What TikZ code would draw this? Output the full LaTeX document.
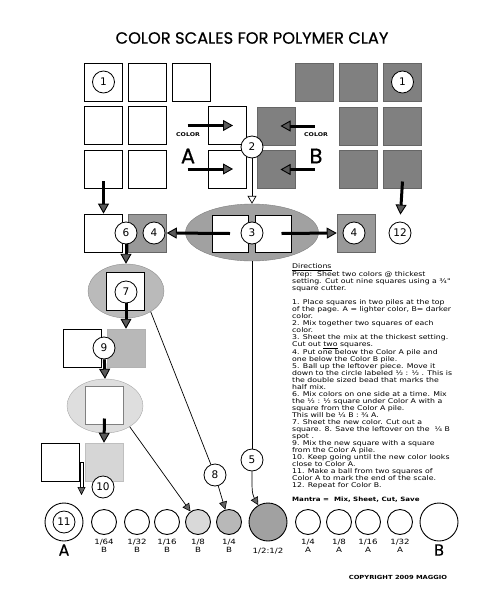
\documentclass[tikz,border=0pt]{standalone}
\usepackage{fontspec}
\setmainfont{DejaVu Sans}
\newfontfamily\titlefont{Poppins}[FakeBold=0.5]
\newfontfamily\dirfont{DejaVu Sans}[FakeStretch=1.2]
\usetikzlibrary{arrows.meta,shapes.geometric,positioning}

\definecolor{clayB}{gray}{0.50}
\definecolor{clayMix}{gray}{0.63}
\definecolor{clayQ}{gray}{0.72}
\definecolor{clayE}{gray}{0.85}

\begin{document}
\begin{tikzpicture}[x=1pt,y=-1pt,
  sqA/.style={draw,fill=white,minimum size=38pt,inner sep=0pt,line width=0.8pt},
  sqB/.style={draw=black!60,fill=clayB,minimum size=38pt,inner sep=0pt,line width=0.5pt},
  num/.style={draw,circle,fill=white,minimum size=22pt,inner sep=0pt,line width=0.8pt,
    font=\fontsize{10.5}{10.5}\selectfont},
  bead/.style={draw,circle,minimum size=25pt,inner sep=0pt,line width=0.9pt},
  blob/.style={ellipse,draw=black!45,minimum width=76pt,minimum height=54pt,inner sep=0pt},
  push/.style={line width=3pt,-{Triangle[length=10pt,width=11pt,fill=black!65,line width=0.9pt]}},
  lead/.style={line width=0.7pt,-{Triangle[length=8pt,width=8pt,fill=black!60,line width=0.6pt]}},
  tag/.style={font=\dirfont\fontsize{7.2}{7.8}\selectfont,align=center,inner sep=0pt},
  big/.style={font=\titlefont\fontsize{21}{21}\selectfont,inner sep=0pt},
  small/.style={font=\dirfont\bfseries\fontsize{5.2}{5.2}\selectfont,inner sep=0pt},
]
\useasboundingbox (0,0) rectangle (500,595);

% the title
\node (title) at (252,38) {\titlefont\fontsize{16.3}{16.3}\selectfont COLOR SCALES FOR POLYMER CLAY};

% the squares of color A
\foreach \x [count=\i] in {103.5,147.5,191}
  \node[sqA] (a1\i) at (\x,82) {};
\foreach \y [count=\j from 2] in {125.5,169}
  \foreach \x [count=\i] in {103.5,147.5}
    \node[sqA] (a\j\i) at (\x,\y) {};

% the squares of color B
\foreach \x [count=\i] in {314,358.5,402.5}
  \node[sqB] (b1\i) at (\x,82) {};
\foreach \y [count=\j from 2] in {126,169.5}
  \foreach \x [count=\i from 2] in {358.5,402.5}
    \node[sqB] (b\j\i) at (\x,\y) {};

% the two piles
\node[sqA] (pa1) at (227,125.5) {};
\node[sqA] (pa2) at (227,169) {};
\node[sqB] (pb1) at (276.5,126) {};
\node[sqB] (pb2) at (276.5,169.5) {};

\node[num] (n1a) at (a11) {1};
\node[num] (n1b) at (b13) {1};
\node[num] (n2) at (252,147) {2};

\node[small] (colA) at (188,135) {COLOR};
\node[big] (letA) at (188,156) {A};
\node[small] (colB) at (316,135) {COLOR};
\node[big] (letB) at (316,156) {B};

\draw[push] ([xshift=-20pt]pa1.west) -- ([xshift=6pt]pa1.center);
\draw[push] ([xshift=-20pt]pa2.west) -- ([xshift=6pt]pa2.center);
\draw[push] ([xshift=19pt]pb1.east) -- ([xshift=4pt]pb1.center);
\draw[push] ([xshift=19pt]pb2.east) -- ([xshift=4pt]pb2.center);

% the mix
\node[ellipse,draw=black!50,fill=clayMix,minimum width=133pt,minimum height=57pt,inner sep=0pt] (mix) at (252,232.5) {};
\node[sqA,minimum width=36pt,minimum height=37pt,line width=0.6pt] (mixl) at (230,233.5) {};
\node[sqA,minimum width=36pt,minimum height=37pt,line width=0.6pt] (mixr) at (273.5,233.5) {};
\node[num] (n3) at (252,233) {3};
\draw[line width=0.7pt,-{Triangle[open,length=8pt,width=9pt,line width=0.7pt]}] (n2) -- (mix.north);

% the squares under the piles
\node[sqA] (w6) at (103.5,233) {};
\node[sqB,fill=black!40] (g4l) at (147.5,233) {};
\node[sqB,fill=black!40] (g4r) at (356,233) {};
\node[num] (n6) at (126,233) {6};
\node[num] (n4l) at (154,233) {4};
\node[num] (n4r) at (354,233) {4};
\node[num] (n12) at (400,233) {12};

\draw[push] (mixl.center) -- (g4l.east);
\draw[push] ([xshift=8pt]mixr.center) -- (g4r.west);
\draw[push] ([yshift=-12pt]a31.center) -- (w6.north);
\draw[push,shorten >=7pt] ([yshift=-12pt]b33.center) -- (n12.north);

% the chain under color A
\node[blob,fill=black!27] (e7) at (126,291) {};
\node[sqA,line width=0.6pt] (w7) at (125.5,291) {};
\node[num] (n7) at (126,292) {7};
\node[sqA] (w9) at (82,348) {};
\node[sqB,fill=black!28,draw=black!30] (g9) at (126,348) {};
\node[num] (n9) at (104,348) {9};
\node[blob,fill=black!13,draw=black!35] (e9) at (105,406) {};
\node[sqA,draw=black!50,line width=0.6pt] (w9b) at (104.5,405.5) {};
\node[sqA] (w10) at (60,462) {};
\node[sqB,fill=black!16,draw=black!25] (g10) at (104,462) {};
\node[num] (n10) at (103,487) {10};
\node[draw,fill=white,line width=0.6pt,minimum width=3pt,minimum height=25pt,inner sep=0pt] (stem) at (81.5,474.5) {};
\coordinate (drop) at (81.5,495);

\draw[push] (n6) -- (e7.north);
\draw[push] (n7) -- (g9.north);
\draw[push] (n9) -- (e9.north);
\draw[push] ([yshift=-13pt]w9b.center) -- (g10.north);
\draw[lead] (stem.south) -- (drop);

% the beads
\node[bead,minimum size=38pt] (b11) at (64,522) {};
\node[num] (n11) at (64,522) {11};
\node[big,font=\titlefont\fontsize{16}{16}\selectfont] (letA2) at (64,550) {A};
\foreach \x/\d/\c in {104/64/white,137/32/white,167/16/white,198/8/clayE,229/4/clayQ}
  \node[bead,fill=\c,label={[tag,label distance=4pt]below:1/\d\\B}] (bB\d) at (\x,522) {};
\node[bead,minimum size=38pt,fill=clayMix,label={[tag,label distance=6pt]below:1/2:1/2}] (half) at (268,522) {};
\foreach \x/\d in {308/4,339/8,368/16,400/32}
  \node[bead,label={[tag,label distance=4pt]below:1/\d\\A}] (bA\d) at (\x,522) {};
\node[bead,minimum size=38pt] (bigB) at (439,522) {};
\node[big,font=\titlefont\fontsize{16}{16}\selectfont] (letB2) at (439,550) {B};

% the lines to the beads
\node[num] (n5) at (252,460) {5};
\node[num] (n8) at (215,475) {8};
\draw[line width=0.7pt] (mix.south) -- (n5);
\draw[lead] (n5.south) to[out=-90,in=120] (half);
\draw[line width=0.7pt] (e7.-40) -- (n8);
\draw[lead] (n8) -- (bB4);
\draw[lead] (e9.-40) -- (bB8);

% the directions
\node[anchor=north west,align=left,inner sep=0pt,font=\dirfont\fontsize{6.5}{7}\selectfont] (dirs) at (292,263.5) {%
\underline{Directions}\\
Prep:\ \ Sheet two colors @ thickest\\
setting. Cut out nine squares using a ¾"\\
square cutter.\\[7pt]
1. Place squares in two piles at the top\\
of the page. A = lighter color, B= darker\\
color.\\
2. Mix together two squares of each\\
color.\\
3. Sheet the mix at the thickest setting.\\
Cut out \underline{two} squares.\\
4. Put one below the Color A pile and\\
one below the Color B pile.\\
5. Ball up the leftover piece. Move it\\
down to the circle labeled ½ : ½ . This is\\
the double sized bead that marks the\\
half mix.\\
6. Mix colors on one side at a time. Mix\\
the ½ : ½ square under Color A with a\\
square from the Color A pile.\\
This will be ¼ B : ¾ A.\\
7. Sheet the new color. Cut out a\\
square. 8. Save the leftover on the\ \ ¼ B\\
spot .\\
9. Mix the new square with a square\\
from the Color A pile.\\
10. Keep going until the new color looks\\
close to Color A.\\
11. Make a ball from two squares of\\
Color A to mark the end of the scale.\\
12. Repeat for Color B.\\[7pt]
{\bfseries\fontsize{5.9}{7}\selectfont Mantra =\ \ Mix, Sheet, Cut, Save}};

% the copyright
\node[font=\dirfont\bfseries\fontsize{5.6}{5.6}\selectfont] (copy) at (398,577) {COPYRIGHT 2009 MAGGIO};
\end{tikzpicture}
\end{document}
